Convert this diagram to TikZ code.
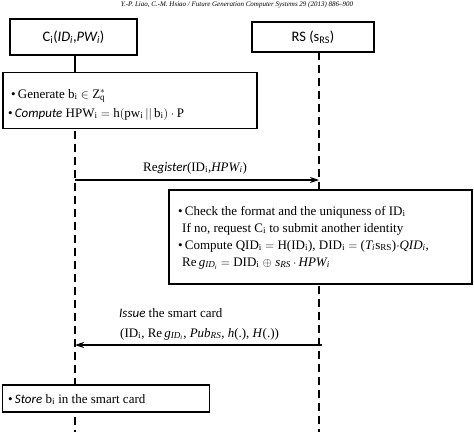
\documentclass[tikz,border=0pt]{standalone}
\usepackage{fontspec}
\setmainfont{Liberation Serif}
\newfontfamily\calfont{Carlito}
\usetikzlibrary{arrows.meta}
\tikzset{
  box/.style={draw=black, line width=1.2pt, fill=white, inner sep=0pt, rectangle},
  lbl/.style={inner sep=0pt, font=\fontsize{13}{15}\selectfont},
  txt/.style={inner sep=0pt, anchor=base west, font=\fontsize{13}{15}\selectfont},
  life/.style={line width=1.2pt, dash pattern=on 8pt off 5pt},
  msg/.style={line width=1.2pt, -{Stealth[length=9pt,width=6pt]}}
}
\begin{document}
\begin{tikzpicture}[x=1pt,y=-1pt]
\useasboundingbox (0,0) rectangle (474,432);
% header
\node[inner sep=0pt, anchor=base, font=\fontsize{7}{8}\selectfont\itshape] (hdr) at (237,6.5)
  {Y.-P. Liao, C.-M. Hsiao / Future Generation Computer Systems 29 (2013) 886--900};
% lifeline coordinates
\coordinate (ctop) at (75,55);
\coordinate (cend) at (75,432);
\coordinate (rtop) at (319,52);
\coordinate (rend) at (319,432);
\draw[line width=1.2pt] (ctop) -- (75,66);
\draw[life] (75,66) -- (cend);
\draw[life] (rtop) -- (rend);
% heads
\node[box, minimum width=127pt, minimum height=36pt] (ci) at (73.5,37) {};
\node[lbl, font=\fontsize{14.5}{16}\selectfont\calfont] (cilbl) at (ci.center)
  {C\textsubscript{i}(\textit{ID\textsubscript{i}},\textit{PW\textsubscript{i}})};
\node[box, minimum width=122pt, minimum height=30pt] (rs) at (313,37) {};
\node[lbl, font=\fontsize{14.5}{16}\selectfont\calfont] (rslbl) at (rs.center)
  {RS (s\textsubscript{RS})};
% box 2
\node[box, minimum width=254pt, minimum height=56pt] (gen) at (130,100.5) {};
\node[txt] (g1) at (11,98) {\textbullet\,Generate $\mathrm{b_i}\in\mathrm{Z}_{\mathrm{q}}^{*}$};
\node[txt] (g2) at (8,117) {\textbullet\,{\calfont\itshape Compute} $\mathrm{HPW_i}=\mathrm{h(pw_i}\,||\,\mathrm{b_i)}\cdot\mathrm{P}$};
% register message
\coordinate (l1) at (75,180);
\coordinate (r1) at (319,180);
\draw[msg] (l1) -- (r1);
\node[lbl, anchor=base] (reg) at (195,171)
  {Re{\calfont\itshape gister}(ID\textsubscript{i},\textit{HPW\textsubscript{i}})};
% box 3
\node[box, minimum width=303pt, minimum height=94pt] (rsbox) at (320.5,237) {};
\node[txt] (c1) at (178,215) {\textbullet\,Check the format and the uniquness of ID\textsubscript{i}};
\node[txt] (c2) at (182,232) {If no, request C\textsubscript{i} to submit another identity};
\node[txt] (c3) at (178,249) {\textbullet\,Compute QID\textsubscript{i} $=$ H(ID\textsubscript{i}), DID\textsubscript{i} $=$ (\textit{T\textsubscript{i}}s\textsubscript{RS})$\cdot$\textit{QID\textsubscript{i}},};
\node[txt] (c4) at (182,266) {Re\,$\mathit{g}_{\mathit{ID_i}}$ $=$ DID\textsubscript{i} $\oplus$ \textit{s\textsubscript{RS}}\,$\cdot$\,\textit{HPW\textsubscript{i}}};
% issue message
\coordinate (r2) at (322,345);
\coordinate (l2) at (75,345);
\draw[msg] (r2) -- (l2);
\node[txt] (i1) at (119,317) {{\calfont\itshape Issue} the smart card};
\node[txt] (i2) at (120,337) {(ID\textsubscript{i}, Re\,\textit{g\textsubscript{ID\textsubscript{i}}}, \textit{Pub\textsubscript{RS}}, \textit{h}(.), \textit{H}(.))};
% box 4
\node[box, minimum width=207pt, minimum height=27pt] (store) at (106,398.5) {};
\node[txt] (s1) at (8,403) {\textbullet\,{\calfont\itshape Store} b\textsubscript{i} in the smart card};
\end{tikzpicture}
\end{document}
